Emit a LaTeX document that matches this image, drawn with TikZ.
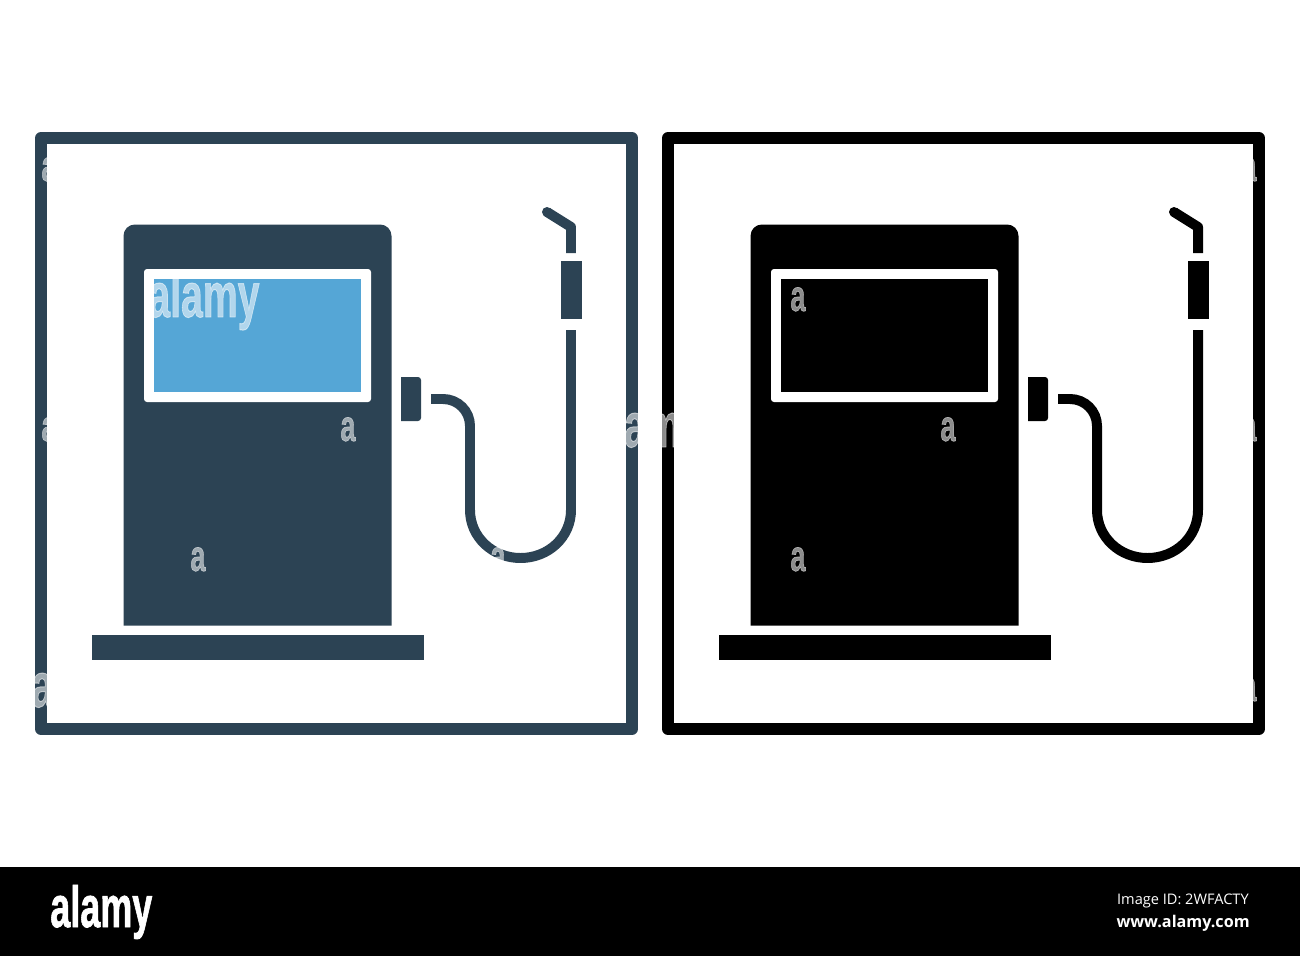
\documentclass[tikz,border=0pt]{standalone}
\usepackage{fontspec}
\setmainfont{Liberation Sans}
\newfontfamily\idfont{Open Sans}
\newfontfamily\heavyfont{Liberation Sans}[BoldFeatures={FakeBold=1.5}]
\definecolor{slate}{HTML}{2C4354}
\definecolor{sky}{HTML}{55A6D6}
\newcommand{\narrow}[1]{\scalebox{0.62}[1]{#1}}
\begin{document}
\begin{tikzpicture}[x=0.02cm, y=-0.02cm,
    frame/.style={line width=6.8pt, line join=round},
    hose/.style={line width=5.67pt},
    nozzle/.style={line width=5.67pt, line join=round},
    smallmark/.style={anchor=base, inner sep=0pt, text=white, text opacity=0.55, font=\heavyfont\bfseries\fontsize{25}{25}\selectfont},
    bigmark/.style={anchor=base west, inner sep=0pt, text=white, text opacity=0.55, font=\heavyfont\bfseries\fontsize{36}{36}\selectfont},
    idtext/.style={anchor=base east, inner sep=0pt, text=white}]

    \useasboundingbox (0,0) rectangle (1300,956);
    \fill[white] (0,0) rectangle (1300,956);

    \foreach \dx/\pumpcol/\screencol in {0/slate/sky, 627/black/black} {
        \begin{scope}[shift={(\dx,0)}]
            \draw[frame, \pumpcol] (41,138) rectangle (632,729);
            \fill[\pumpcol] (123.5,625.5) [rounded corners=6.5pt] -- (123.5,224.5) -- (391.5,224.5) [sharp corners] -- (391.5,625.5) -- cycle;
            \fill[white, rounded corners=1.7pt] (144,269) rectangle (371,402);
            \fill[\screencol] (154,279) rectangle (361,392);
            \fill[\pumpcol] (91.5,635) rectangle (423.5,659.5);
            \fill[\pumpcol] (401,377) [rounded corners=1.7pt] -- (421,377) -- (421,421) [sharp corners] -- (401,421) -- cycle;
            \draw[hose, \pumpcol] (431,399) -- (443,399) .. controls (458,399) and (470,411) .. (470,426)
                -- (470,510) .. controls (470,537) and (492.5,558) .. (520.5,558)
                .. controls (548.5,558) and (571,537) .. (571,510) -- (571,330);
            \fill[\pumpcol] (561,261) rectangle (582,319);
            \draw[nozzle, \pumpcol] (547,212) -- (571,227) -- (571,253);
            \fill[\pumpcol] (547,212) circle (5);
        \end{scope}
    }

    \node[bigmark] (markscreen) at (148,317) {\narrow{alamy}};
    \node[bigmark] (markmiddle) at (591,447) {\narrow{alamy}};
    \foreach \px/\py [count=\i] in {49/181, 49/441, 198/571, 348/441, 498/571, 798/311, 948/441, 798/571, 1249/181, 1249/441, 1249/701} {
        \node[smallmark] (mark\i) at (\px,\py) {\narrow{a}};
    }
    \node[bigmark] (markcorner) at (31,707) {\narrow{a}};

    \fill[black] (0,867) rectangle (1300,956);
    \node[anchor=base west, inner sep=0pt, text=white, font=\heavyfont\bfseries\fontsize{33}{33}\selectfont] (logo) at (50,927) {\narrow{alamy}};
    \node[idtext, font=\idfont\fontsize{8.3}{10}\selectfont] (imageid) at (1249,904) {Image ID: 2WFACTY};
    \node[idtext, font=\idfont\bfseries\fontsize{9.2}{11}\selectfont] (website) at (1250,927) {www.alamy.com};
\end{tikzpicture}
\end{document}
